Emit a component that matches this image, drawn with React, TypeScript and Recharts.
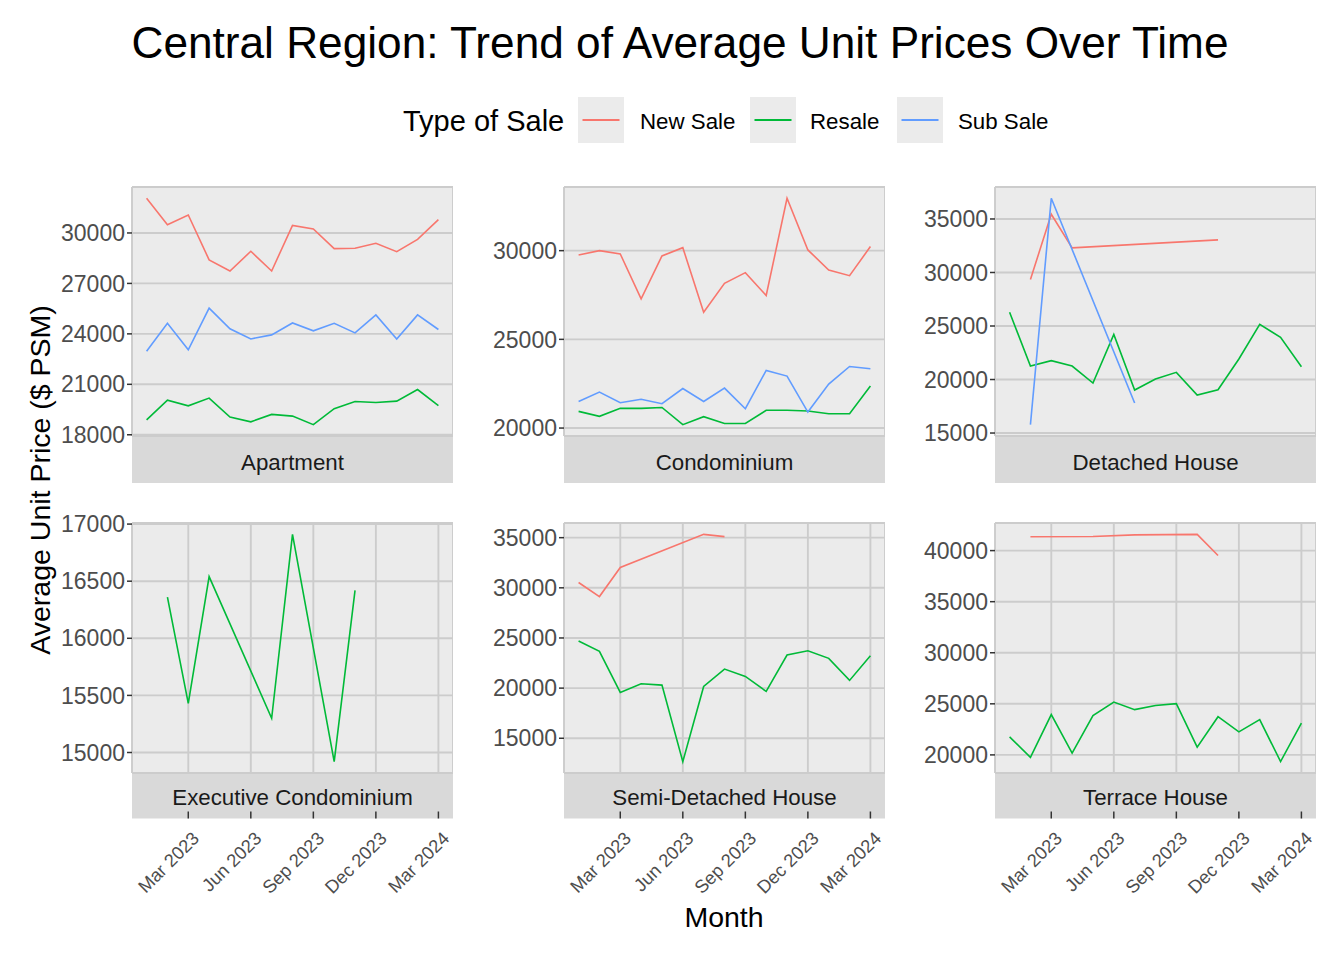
import React from "react";
import { LineChart, Line, XAxis, YAxis, CartesianGrid } from "recharts";

// months on the x axis (index 0 = Jan 2023)
const months = [
  "Jan 2023", "Feb 2023", "Mar 2023", "Apr 2023", "May 2023", "Jun 2023", "Jul 2023", "Aug 2023",
  "Sep 2023", "Oct 2023", "Nov 2023", "Dec 2023", "Jan 2024", "Feb 2024", "Mar 2024",
];
const xTickLabels = ["Mar 2023", "Jun 2023", "Sep 2023", "Dec 2023", "Mar 2024"];

const seriesNames = ["New Sale", "Resale", "Sub Sale"];
const seriesKeys = ["newSale", "resale", "subSale"];
const seriesColors = ["#F8766D", "#00BA38", "#619CFF"];

// Apartment
const aptNew = [32060, 30490, 31070, 28400, 27740, 28910, 27740, 30450, 30240, 29070, 29090, 29390, 28890, 29620, 30790];
const aptResale = [18890, 20060, 19720, 20180, 19050, 18770, 19210, 19110, 18600, 19550, 19980, 19920, 20000, 20690, 19740];
const aptSub = [22970, 24630, 23050, 25530, 24300, 23700, 23940, 24650, 24180, 24630, 24060, 25130, 23700, 25130, 24260];
const aptTicks = [18000, 21000, 24000, 27000, 30000];

// Condominium
const condoNew = [29760, 30000, 29810, 27280, 29700, 30170, 26530, 28160, 28760, 27470, 32950, 30040, 28910, 28590, 30230];
const condoResale = [20940, 20660, 21110, 21110, 21160, 20190, 20640, 20260, 20260, 21000, 21000, 20960, 20810, 20810, 22370];
const condoSub = [21500, 22030, 21430, 21620, 21370, 22230, 21500, 22250, 21090, 23250, 22930, 20900, 22480, 23470, 23340];
const condoTicks = [20000, 25000, 30000];

// Detached House
const detNew = [null, 29350, 35440, 32300, null, null, null, null, null, null, 33050, null, null, null, null];
const detResale = [26280, 21260, 21760, 21260, 19670, 24220, 19020, 20050, 20670, 18550, 19050, 21920, 25160, 23940, 21200];
const detSub = [null, 15780, 36930, null, null, null, 17800, null, null, null, null, null, null, null, null];
const detTicks = [15000, 20000, 25000, 30000, 35000];

// Executive Condominium
const ecResale = [null, 16360, 15430, 16540, null, null, 15300, 16910, null, 14920, 16420, null, null, null, null];
const ecTicks = [15000, 15500, 16000, 16500, 17000];

// Semi-Detached House
const semiNew = [30530, 29130, 32030, null, null, null, 35330, 35100, null, null, null, null, null, null, null];
const semiResale = [24700, 23670, 19570, 20430, 20300, 12670, 20170, 21900, 21170, 19670, 23300, 23730, 22970, 20770, 23230];
const semiTicks = [15000, 20000, 25000, 30000, 35000];

// Terrace House
const terNew = [null, 41350, null, null, 41380, null, 41540, null, null, 41590, 39520, null, null, null, null];
const terResale = [21770, 19760, 23950, 20170, 23840, 25170, 24430, 24840, 25020, 20760, 23740, 22250, 23460, 19340, 23110];
const terTicks = [20000, 25000, 30000, 35000, 40000];

const panels = [
  { title: "Apartment", series: [aptNew, aptResale, aptSub], ticks: aptTicks },
  { title: "Condominium", series: [condoNew, condoResale, condoSub], ticks: condoTicks },
  { title: "Detached House", series: [detNew, detResale, detSub], ticks: detTicks },
  { title: "Executive Condominium", series: [null, ecResale, null], ticks: ecTicks },
  { title: "Semi-Detached House", series: [semiNew, semiResale, null], ticks: semiTicks },
  { title: "Terrace House", series: [terNew, terResale, null], ticks: terTicks },
];

const FONT = "'Liberation Sans', Arial, Helvetica, sans-serif";
const COL_LEFT = [132, 564, 995];
const PANEL_W = 321;
const ROWS = [
  { top: 187, plotH: 249, stripH: 47 },
  { top: 523, plotH: 250, stripH: 45.5 },
];
const Y_AXIS_W = 80;
const X_AREA = 90;
const TOP_PAD = 16;

const xTickIdx = xTickLabels.map((l) => months.indexOf(l));
const xPad = (months.length - 1) * 0.05;

const expand = (vals: number[]) => {
  const lo = Math.min(...vals);
  const hi = Math.max(...vals);
  const pad = (hi - lo) * 0.05;
  return [lo - pad, hi + pad];
};

const XTick = (props: any) => {
  const { x, y, payload, stripH } = props;
  const sb = y + stripH;
  const ax = x + 12;
  const ay = sb + 21;
  return (
    <g>
      <line x1={x} x2={x} y1={sb - 7} y2={sb} stroke="#333333" strokeWidth={1.5} />
      <text
        x={ax}
        y={ay}
        textAnchor="end"
        fontSize={18.3}
        fill="#4D4D4D"
        fontFamily={FONT}
        transform={`rotate(-45 ${ax} ${ay})`}
      >
        {months[payload.value]}
      </text>
    </g>
  );
};

const Panel = ({ p, col, row }: any) => {
  const r = ROWS[row];
  const bottomRow = row === 1;
  const rows = months.map((_, i) => {
    const o: any = { m: i };
    seriesKeys.forEach((k, s) => {
      o[k] = p.series[s] ? p.series[s][i] : null;
    });
    return o;
  });
  const vals: number[] = [];
  p.series.forEach((s: any) => s && s.forEach((v: any) => v != null && vals.push(v)));
  const yDomain = expand(vals);
  const xH = bottomRow ? r.stripH + X_AREA : r.stripH;

  return (
    <div style={{ position: "absolute", left: COL_LEFT[col] - Y_AXIS_W, top: r.top - TOP_PAD }}>
      <LineChart
        width={Y_AXIS_W + PANEL_W}
        height={TOP_PAD + r.plotH + xH}
        data={rows}
        margin={{ top: TOP_PAD, right: 0, bottom: 0, left: 0 }}
      >
        <CartesianGrid fill="#EBEBEB" stroke="#CCCCCC" strokeWidth={1.9} />
        <XAxis
          type="number"
          dataKey="m"
          domain={[-xPad, months.length - 1 + xPad]}
          ticks={xTickIdx}
          interval={0}
          allowDataOverflow
          height={xH}
          axisLine={false}
          tickLine={false}
          tickSize={0}
          tickMargin={0}
          tick={bottomRow ? <XTick stripH={r.stripH} /> : false}
        />
        <YAxis
          type="number"
          width={Y_AXIS_W}
          domain={yDomain}
          ticks={p.ticks}
          interval={0}
          allowDataOverflow
          axisLine={false}
          tickSize={5}
          tickMargin={2}
          tickLine={{ stroke: "#333333", strokeWidth: 1.5 }}
          tick={{ fill: "#4D4D4D", fontSize: 23, fontFamily: FONT }}
        />
        {seriesKeys.map((k, s) =>
          p.series[s] ? (
            <Line
              key={k}
              type="linear"
              dataKey={k}
              stroke={seriesColors[s]}
              strokeWidth={1.6}
              dot={false}
              activeDot={false}
              connectNulls
              isAnimationActive={false}
            />
          ) : null
        )}
      </LineChart>
    </div>
  );
};

const legendKeysX = [578, 750, 897];
const legendLabelX = [640, 810, 958];

export default function App() {
  return (
    <div style={{ position: "relative", width: 1344, height: 960, background: "#FFFFFF", fontFamily: FONT }}>
      <style>{"body{margin:0}"}</style>
      <svg width={1344} height={960} style={{ position: "absolute", left: 0, top: 0 }} fontFamily={FONT}>
        <text x={680} y={58} textAnchor="middle" fontSize={44.2} fill="#000000">
          Central Region: Trend of Average Unit Prices Over Time
        </text>
        <text x={403} y={131} fontSize={29} fill="#000000">Type of Sale</text>
        {seriesNames.map((n, i) => (
          <g key={n}>
            <rect x={legendKeysX[i]} y={97} width={46} height={46} fill="#EBEBEB" />
            <line
              x1={legendKeysX[i] + 4.5}
              x2={legendKeysX[i] + 41.5}
              y1={120}
              y2={120}
              stroke={seriesColors[i]}
              strokeWidth={1.8}
            />
            <text x={legendLabelX[i]} y={129} fontSize={22.3} fill="#000000">{n}</text>
          </g>
        ))}
        {panels.map((p, i) => {
          const col = i % 3;
          const r = ROWS[Math.floor(i / 3)];
          const sy = r.top + r.plotH;
          return (
            <g key={p.title}>
              <rect x={COL_LEFT[col]} y={sy} width={PANEL_W} height={r.stripH} fill="#D9D9D9" />
              <text
                x={COL_LEFT[col] + PANEL_W / 2}
                y={sy + r.stripH - 13.3}
                textAnchor="middle"
                fontSize={22.3}
                fill="#1A1A1A"
              >
                {p.title}
              </text>
            </g>
          );
        })}
        <text x={724} y={927} textAnchor="middle" fontSize={28.5} fill="#000000">Month</text>
        <text x={50} y={480} textAnchor="middle" fontSize={28.5} fill="#000000" transform="rotate(-90 50 480)">
          Average Unit Price ($ PSM)
        </text>
      </svg>
      {panels.map((p, i) => (
        <Panel key={p.title} p={p} col={i % 3} row={Math.floor(i / 3)} />
      ))}
    </div>
  );
}
